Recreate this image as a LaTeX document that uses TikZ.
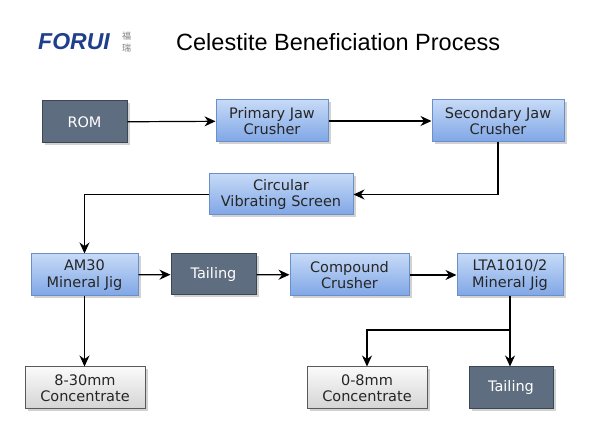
\documentclass[tikz,border=0pt]{standalone}
\usepackage{fontspec}
\setmainfont{DejaVu Sans}
\newfontfamily\titlefont{Liberation Sans}
\newfontfamily\cjk{Noto Sans CJK SC}
\usetikzlibrary{arrows.meta,shadows}
\definecolor{bluetop}{HTML}{C6DAF7}
\definecolor{bluebot}{HTML}{7FA6E6}
\definecolor{blueedge}{HTML}{6A8FC9}
\definecolor{dark}{HTML}{5E6D80}
\definecolor{darkedge}{HTML}{3C4754}
\definecolor{graytop}{HTML}{FAFAFA}
\definecolor{graybot}{HTML}{D4D4D4}
\definecolor{logo}{HTML}{1F3F8C}
\begin{document}
\begin{tikzpicture}[x=1pt,y=-1pt,
  box/.style={draw,line width=1pt,align=center,font=\fontsize{14.5}{16.5}\selectfont,inner sep=0pt,
    drop shadow={shadow xshift=2.5pt,shadow yshift=-2.5pt,opacity=0.35}},
  blue/.style={box,draw=blueedge,top color=bluetop,bottom color=bluebot,text=black!85},
  darkb/.style={box,draw=darkedge,fill=dark,text=white},
  grayb/.style={box,draw=gray!70!black,top color=graytop,bottom color=graybot,text=black!85},
  arr/.style={-{Stealth[length=11pt,width=10pt]},line width=1.2pt}]
\useasboundingbox (0,0) rectangle (600,443);
\fill[white] (0,0) rectangle (600,443);
\node[font=\titlefont\bfseries\itshape\fontsize{23}{23}\selectfont,text=logo,anchor=west,inner sep=0pt] (logo) at (38,42) {FORUI};
\node[font=\cjk\fontsize{9}{12}\selectfont,text=gray,align=center,anchor=west,inner sep=0pt] (logocn) at (122,42) {福\\瑞};
\node[font=\titlefont\fontsize{23.5}{23.5}\selectfont,anchor=west,inner sep=0pt] (title) at (176,42) {Celestite Beneficiation Process};
\def\bx#1#2#3#4#5#6#7{\node[#2,minimum width=#5-#3,minimum height=#6-#4] (#1) at ({(#3+#5)/2},{(#4+#6)/2}) {#7};}
\bx{rom}{darkb}{42}{101}{127}{143}{ROM}
\bx{pj}{blue}{216}{100}{328}{142}{Primary Jaw\\Crusher}
\bx{sj}{blue}{432}{100}{564}{142}{Secondary Jaw\\Crusher}
\bx{cv}{blue}{209}{174}{353}{215}{Circular\\Vibrating Screen}
\bx{am}{blue}{31}{254}{138}{296}{AM30\\Mineral Jig}
\bx{t1}{darkb}{171}{254}{256}{295}{Tailing}
\bx{cc}{blue}{290}{254}{409}{296}{Compound\\Crusher}
\bx{lta}{blue}{457}{254}{563}{296}{LTA1010/2\\Mineral Jig}
\bx{c1}{grayb}{25}{367}{145}{409}{8-30mm\\Concentrate}
\bx{c2}{grayb}{307}{367}{427}{409}{0-8mm\\Concentrate}
\bx{t2}{darkb}{469}{367}{553}{409}{Tailing}
\coordinate (j) at (510,330);
\draw[arr] (rom) -- (pj);
\draw[arr] (pj) -- (sj);
\draw[arr] (sj.south) |- (cv.east);
\draw[arr] (cv.west) -| (am.north);
\draw[arr] (am) -- (t1);
\draw[arr] (t1) -- (cc);
\draw[arr] (cc) -- (lta);
\draw[arr] (am.south) -- (c1.north -| am.south);
\draw[line width=1.2pt] (lta.south -| j) -- (j);
\draw[arr] (j) -| (c2.north);
\draw[arr] (j) -- (t2.north -| j);
\end{tikzpicture}
\end{document}
